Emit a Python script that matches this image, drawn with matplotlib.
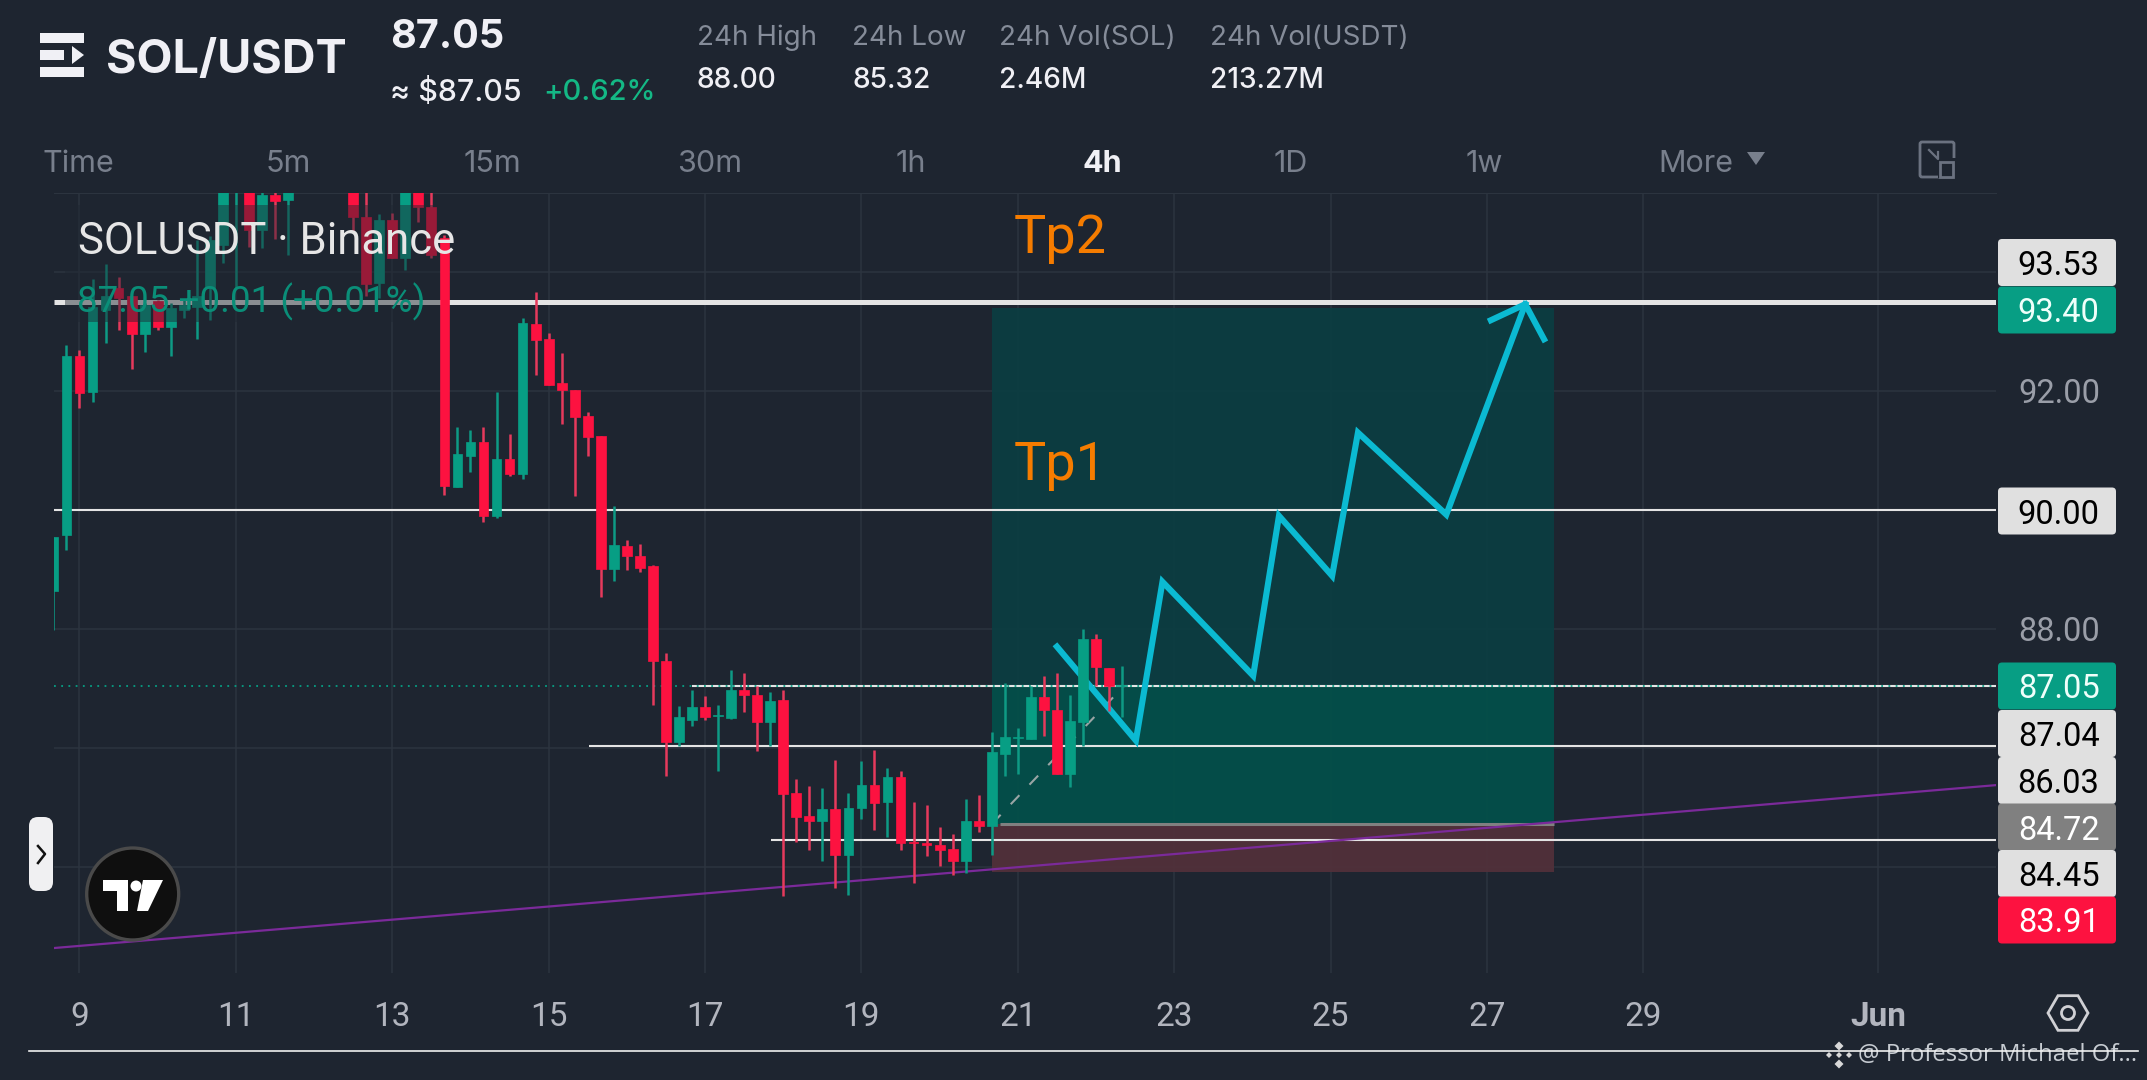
import numpy as np
import matplotlib
matplotlib.use("Agg")
import matplotlib.pyplot as plt
from matplotlib.patches import Rectangle, FancyBboxPatch, Circle, Polygon

plt.rcParams["font.family"] = ["Roboto", "DejaVu Sans"]

nan = float("nan")

# 4h candles, first one sits two bars before the 9th
opens = [88.63, 89.57, 92.59, 91.99, 93.37, 93.74, 93.59, 92.96, 93.51, 93.08, 93.37, 93.42, 93.74, 94.46, 95.50, 95.50,
         94.71, 95.30, 95.22, nan, nan, nan, nan, 95.50, 94.93, 93.82, 94.88, 94.24, 95.40, 95.10, 94.58, 90.39,
         90.91, 91.15, 89.90, 90.86, 90.61, 93.13, 92.88, 92.14, 92.02, 91.58, 91.25, 89.01, 89.40, 89.22, 89.05,
         87.46, 86.10, 86.47, 86.69, 86.54, 86.50, 86.97, 86.89, 86.44, 86.81, 85.24, 84.85, 84.76, 84.97, 84.20,
         84.99, 85.38, 85.08, 85.51, 84.41, 84.39, 84.37, 84.30, 84.10, 84.77, 84.69, 85.90, 86.17, 86.15, 86.86,
         86.64, 85.56, 86.44, 87.83, 87.34, 87.04]
highs = [89.55, 92.78, 92.69, 93.89, 94.14, 93.92, 93.60, 93.48, 93.53, 93.48, 93.53, 94.54, 94.60, 95.60, 95.80, 95.70,
         95.40, 95.40, 95.60, nan, nan, nan, nan, 95.60, 95.40, 94.98, 95.00, 95.50, 95.50, 95.40, 94.63, 91.40,
         91.34, 91.40, 91.99, 91.28, 93.23, 93.66, 92.98, 92.64, 92.02, 91.64, 91.25, 90.06, 89.49, 89.43, 89.08,
         87.60, 86.70, 86.97, 86.87, 86.72, 87.30, 87.26, 87.04, 86.94, 86.97, 85.48, 85.36, 85.33, 85.80, 85.24,
         85.77, 85.96, 85.65, 85.60, 85.09, 85.04, 84.67, 84.55, 85.14, 85.21, 86.27, 87.09, 86.33, 87.04, 87.21,
         87.26, 86.89, 88.00, 87.92, 87.34, 87.38]
lows = [87.98, 89.33, 91.72, 91.82, 92.81, 93.03, 92.37, 92.66, 93.03, 92.58, 93.22, 92.88, 93.20, 94.16, 93.74, 94.43,
        94.41, 94.56, 94.29, nan, nan, nan, nan, 94.68, 93.60, 93.57, 94.24, 94.04, 94.85, 94.24, 90.25, 90.39,
        90.63, 89.80, 89.87, 90.57, 90.52, 92.27, 92.10, 91.45, 90.24, 90.91, 88.54, 88.81, 88.99, 88.95, 86.72,
        85.53, 86.02, 86.37, 86.46, 85.60, 86.49, 86.60, 85.95, 86.02, 83.51, 84.41, 84.28, 84.09, 83.64, 83.53,
        84.80, 84.62, 84.50, 84.28, 83.73, 84.17, 84.01, 83.86, 83.90, 84.59, 84.20, 85.53, 85.56, 86.15, 86.20,
        85.56, 85.34, 86.03, 87.03, 86.61, 86.52]
closes = [89.55, 92.58, 91.97, 93.42, 93.59, 93.57, 92.96, 93.45, 93.07, 93.40, 93.45, 93.59, 94.54, 95.50, 95.70, 94.71,
          95.30, 95.19, 95.50, nan, nan, nan, nan, 94.93, 93.80, 94.88, 94.24, 95.40, 95.10, 94.29, 90.41, 90.94,
          91.15, 89.90, 90.86, 90.61, 93.15, 92.86, 92.10, 92.02, 91.57, 91.23, 89.01, 89.41, 89.22, 89.03, 87.45,
          86.10, 86.51, 86.69, 86.52, 86.55, 86.97, 86.88, 86.44, 86.79, 85.22, 84.84, 84.76, 84.97, 84.20, 84.99,
          85.38, 85.07, 85.51, 84.40, 84.39, 84.37, 84.28, 84.10, 84.77, 84.69, 85.92, 86.18, 86.18, 86.86, 86.63,
          85.56, 86.45, 87.83, 87.36, 87.03, 87.05]

# horizontal levels drawn on the chart: price and the day they start from
level_prices = [93.50, 90.00, 87.04, 86.03, 84.45]
level_starts = [8.674, 8.674, 16.83, 15.51, 17.84]

# long position tool
pos_start, pos_end = 20.67, 27.86
entry, target, stop, last_price = 84.72, 93.40, 83.91, 87.04
last_day = 22.36

# hand drawn projection
path_days = [21.50, 22.51, 22.85, 24.01, 24.34, 25.02, 25.35, 26.48, 27.49]
path_prices = [87.70, 86.12, 88.79, 87.21, 89.90, 88.89, 91.30, 89.92, 93.46]
head_days = [27.05, 27.49, 27.73]
head_prices = [93.19, 93.46, 92.87]

trend_days = [8.674, 33.51]
trend_prices = [82.63, 85.37]

x_ticks = [9, 11, 13, 15, 17, 19, 21, 23, 25, 27, 29, 32]
x_labels = ["9", "11", "13", "15", "17", "19", "21", "23", "25", "27", "29", "Jun"]
y_ticks = [84, 86, 88, 90, 92, 94]
y_labels = ["", "", "88.00", "", "92.00", ""]

price_tags = ["93.53", "93.40", "90.00", "87.05", "87.04", "86.03", "84.72", "84.45", "83.91"]
tag_colors = ["#E0E0E0", "#079E84", "#E0E0E0", "#079E84", "#E0E0E0", "#E0E0E0", "#808080", "#E0E0E0", "#FD1240"]
tag_text = ["black", "#EFFFFA", "black", "#EFFFFA", "black", "black", "white", "black", "white"]
tag_centers = [262.5, 310, 511, 686, 733.5, 780.5, 827, 873.5, 920]

BG = "#1E2530"
GRID = "#2C343F"
TEAL = "#079E84"
RED = "#FD1240"
W, H = 2147, 1080

fig = plt.figure(figsize=(W / 100, H / 100), dpi=100, facecolor=BG)
ax = fig.add_axes([54 / W, 1 - 973 / H, (1996 - 54) / W, 780 / H], facecolor=BG)
ax.set_xlim(8.674, 33.51)
ax.set_ylim(82.21, 95.33)

ax.set_xticks(x_ticks)
ax.set_xticklabels(x_labels, fontsize=24, color="#B2B5BE")
ax.get_xticklabels()[-1].set_fontweight("bold")
ax.set_yticks(y_ticks)
ax.set_yticklabels(y_labels, fontsize=23.5, color="#9A9EA8")
ax.yaxis.tick_right()
ax.tick_params(axis="x", length=0, pad=20)
ax.tick_params(axis="y", length=0, pad=16)
ax.grid(color=GRID, lw=1.1, zorder=0)
ax.set_axisbelow(True)
for name, spine in ax.spines.items():
    spine.set_visible(name == "top")
    spine.set_color(GRID)

# position zones
ax.fill_between([pos_start, pos_end], last_price, target, color="#0B3D42", alpha=0.93, lw=0, zorder=1)
ax.fill_between([pos_start, pos_end], entry, last_price, color="#03504A", alpha=0.93, lw=0, zorder=1)
ax.fill_between([pos_start, pos_end], stop, entry, color="#52303A", alpha=0.93, lw=0, zorder=1)
ax.plot([pos_start + 0.1, pos_end], [entry, entry], color="#808080", lw=2.2, zorder=2, solid_capstyle="butt")
ax.plot([pos_start, last_day], [entry, last_price], color="#9AA5A5", lw=1.5, ls=(0, (6, 7)), zorder=2)

for i, (price, start) in enumerate(zip(level_prices, level_starts)):
    ax.plot([start, ax.get_xlim()[1]], [price, price], color="#E4E4E4", lw=3.6 if i == 0 else 1.5,
            solid_capstyle="butt", zorder=3)
ax.axhline(last_price, color=TEAL, lw=1.3, ls=(0, (1, 3)), zorder=3.5)

ax.plot(trend_days, trend_prices, color="#7B2A9A", lw=1.6, zorder=3)
ax.plot(path_days, path_prices, color="#0BBAD2", lw=4.4, zorder=4, solid_joinstyle="miter")
ax.plot(head_days, head_prices, color="#0BBAD2", lw=4.4, zorder=4, solid_joinstyle="miter")

ax.text(20.95, 94.56, "Tp2", color="#F57C00", fontsize=39, va="center", zorder=4)
ax.text(20.95, 90.75, "Tp1", color="#F57C00", fontsize=39, va="center", zorder=4)

# candles
days = 9 + (np.arange(len(opens)) - 2) / 6
o, h, l, c = map(np.array, (opens, highs, lows, closes))
up = c >= o
colors = np.where(up, TEAL, RED)
wick_colors = np.where(up, "#0E9A84", "#E63A5C")
ax.vlines(days, l, h, colors=wick_colors, lw=1.8, zorder=5)
ax.bar(days, np.abs(c - o), bottom=np.minimum(o, c), width=0.125, color=colors, edgecolor=colors, lw=0.5, zorder=6)

# everything around the chart, in pixels
ui = fig.add_axes([0, 0, 1, 1], zorder=5)
ui.set_xlim(0, W)
ui.set_ylim(H, 0)
ui.axis("off")

# legend block dims whatever is under it
ui.add_patch(Rectangle((65, 205), 375, 117, facecolor=BG, edgecolor="none", alpha=0.45, zorder=1))
ui.text(78, 242, "SOLUSDT · Binance", color="#E6E6E6", fontsize=31.4, va="center", zorder=3)
ui.text(77, 302, "87.05 +0.01 (+0.01%)", color="#0A8E78", fontsize=26.5, va="center", zorder=3)

# price tags
for label, face, tcol, yc in zip(price_tags, tag_colors, tag_text, tag_centers):
    ui.add_patch(FancyBboxPatch((1998, yc - 23.5), 118, 47, boxstyle="round,pad=0,rounding_size=4",
                                facecolor=face, edgecolor="none"))
    ui.text(2099.5, yc, label, color=tcol, fontsize=23.5, ha="right", va="center_baseline")

# header
hf = ["Inter", "DejaVu Sans"]
for y in (33, 67):
    ui.add_patch(Rectangle((40, y), 44, 10, facecolor="#F0F0F5", edgecolor="none"))
ui.add_patch(Rectangle((40, 50), 24, 10, facecolor="#F0F0F5", edgecolor="none"))
ui.add_patch(Polygon([(72, 46), (84, 55), (72, 64)], facecolor="#F0F0F5", edgecolor="none"))
ui.text(106, 61, "SOL/USDT", color="#F0F0F5", fontsize=33.6, fontweight="bold", va="center", family=hf)
ui.text(390, 38, "87.05", color="#F0F0F5", fontsize=28.5, fontweight="bold", va="center", family=hf)
ui.text(390, 92, "≈ $87.05", color="#F0F0F5", fontsize=21.8, fontweight="medium", va="center", family=hf)
ui.text(543, 92, "+0.62%", color="#14B885", fontsize=21, fontweight="medium", va="center", family=hf)

stat_x = [697, 852, 999, 1210]
stat_names = ["24h High", "24h Low", "24h Vol(SOL)", "24h Vol(USDT)"]
stat_values = ["88.00", "85.32", "2.46M", "213.27M"]
for x, name, value in zip(stat_x, stat_names, stat_values):
    ui.text(x, 38, name, color="#858C99", fontsize=20, va="center", family=hf)
    ui.text(x, 81, value, color="#F0F0F5", fontsize=20.2, fontweight="medium", va="center", family=hf)

tab_x = [43, 266, 464, 677, 896, 1083, 1274, 1466, 1658]
tab_names = ["Time", "5m", "15m", "30m", "1h", "4h", "1D", "1w", "More"]
for x, name in zip(tab_x, tab_names):
    active = name == "4h"
    ui.text(x, 164, name, color="#F0F0F5" if active else "#787F8C", fontsize=22,
            fontweight="bold" if active else "normal", va="center", family=hf)
ui.add_patch(Polygon([(1747, 152), (1765, 152), (1756, 165)], facecolor="#787F8C", edgecolor="none"))

# layout icon
ui.add_patch(FancyBboxPatch((1920, 142), 34, 35, boxstyle="round,pad=0,rounding_size=2", facecolor="none",
                            edgecolor="#6B7280", lw=2))
ui.add_patch(Rectangle((1938, 158), 18, 20, facecolor=BG, edgecolor="none"))
ui.add_patch(Rectangle((1940, 162), 13, 15, facecolor="none", edgecolor="#6B7280", lw=2))
ui.plot([1929, 1938, 1938], [150, 159, 152], color="#6B7280", lw=1.6)

# panel handle
ui.add_patch(FancyBboxPatch((29, 817), 24, 74, boxstyle="round,pad=0,rounding_size=9", facecolor="#F0F0F2",
                            edgecolor="none"))
ui.plot([38, 45, 38], [846, 854, 863], color="#111111", lw=1.8)

# logo
ui.add_patch(Circle((132.7, 894), 46, facecolor="#0F0F0F", edgecolor="#4A4A4A", lw=2.4))
ui.add_patch(Polygon([(103, 880), (128, 880), (128, 911), (117, 911), (117, 891), (103, 891)],
                     facecolor="white", edgecolor="none"))
ui.add_patch(Circle((136, 886), 5.5, facecolor="white", edgecolor="none"))
ui.add_patch(Polygon([(143, 880), (163, 880), (148, 911), (137, 911)], facecolor="white", edgecolor="none"))

# settings hexagon
ang = np.deg2rad(np.arange(0, 360, 60))
ui.add_patch(Polygon(np.column_stack([2068 + 20 * np.cos(ang), 1013 + 20 * np.sin(ang)]), facecolor="none",
                     edgecolor="#D0D0D4", lw=2))
ui.add_patch(Circle((2068, 1013), 6.5, facecolor="none", edgecolor="#D0D0D4", lw=2))

# footer
ui.plot([29, 2138], [1051, 1051], color="#F0F0F0", lw=1.2, zorder=3)
ui.text(1858, 1055, "@ Professor Michael Of...", color="#C6CBD1", fontsize=17.2, va="center",
        family=["Open Sans", "DejaVu Sans"], zorder=2)
for dx, dy, s in [(0, -9, 4.5), (0, 9, 4.5), (-10, 0, 3), (10, 0, 3), (0, 0, 3)]:
    cx, cy = 1839 + dx, 1055 + dy
    ui.add_patch(Polygon([(cx - s, cy), (cx, cy - s), (cx + s, cy), (cx, cy + s)], facecolor="#D8D8D8",
                         edgecolor="none"))

fig.savefig("out.png", dpi=100, facecolor=BG)
